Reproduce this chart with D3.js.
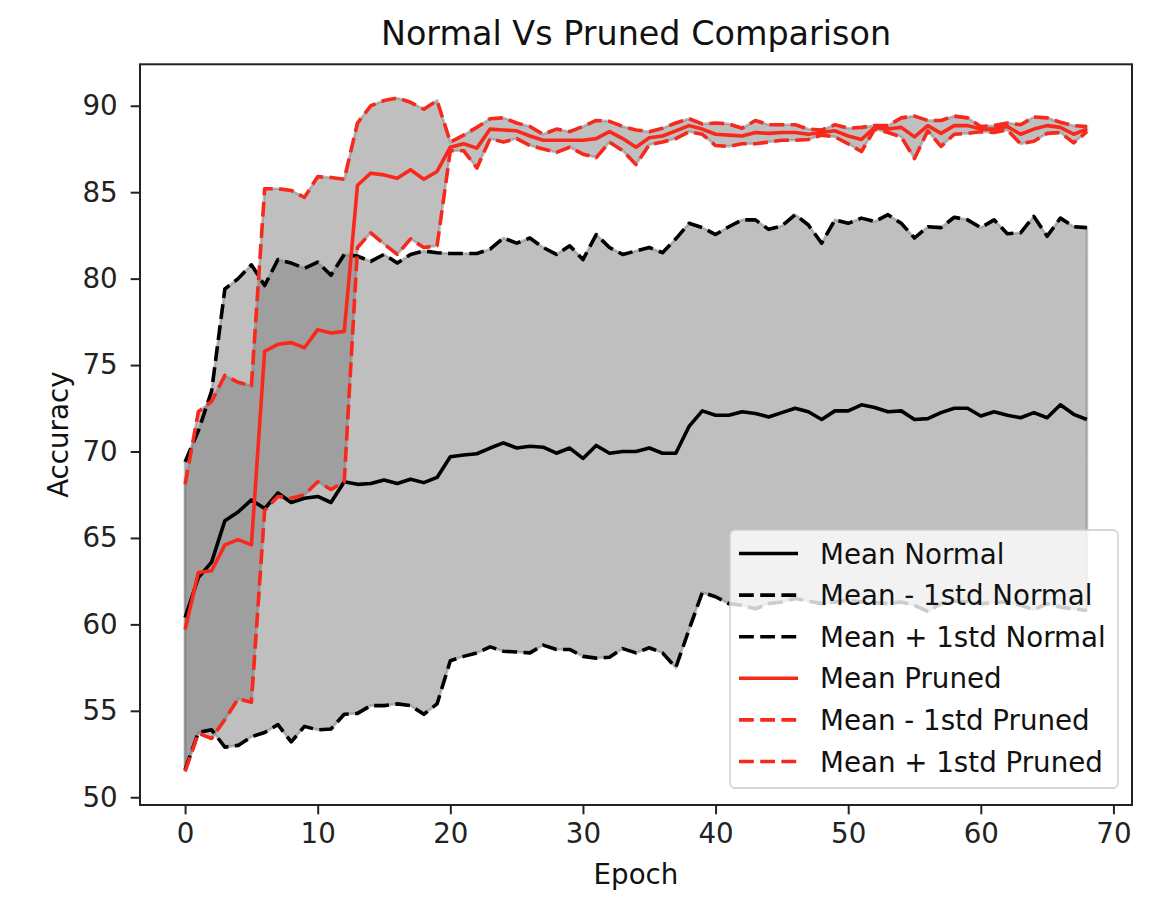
<!DOCTYPE html>
<html>
<head>
<meta charset="utf-8">
<script src="https://cdn.jsdelivr.net/npm/d3@7"></script>
<style>
  body { margin: 0; background: #fff; }
  svg { display: block; font-family: "DejaVu Sans", sans-serif; }
</style>
</head>
<body>
<div id="chart"></div>
<script>

// values, one per epoch (0 .. 68)
const meanNormal = [
  60.4, 62.7, 63.6, 66.0, 66.5, 67.2, 66.7, 67.6, 67.05, 67.3,
  67.4, 67.05, 68.25, 68.1, 68.15, 68.35, 68.15, 68.4, 68.2, 68.5,
  69.7, 69.8, 69.87, 70.2, 70.5, 70.2, 70.3, 70.25, 69.9, 70.2,
  69.6, 70.35, 69.9, 70.0, 70.0, 70.2, 69.9, 69.9, 71.45, 72.35,
  72.1, 72.1, 72.3, 72.2, 72.0, 72.25, 72.5, 72.3, 71.85, 72.35,
  72.35, 72.7, 72.55, 72.3, 72.35, 71.85, 71.9, 72.25, 72.5, 72.5,
  72.05, 72.3, 72.1, 71.95, 72.25, 71.95, 72.7, 72.15, 71.85
];
const lowerNormal = [
  51.6, 53.75, 53.9, 52.9, 53.0, 53.5, 53.75, 54.2, 53.2, 54.1,
  53.9, 53.95, 54.8, 54.85, 55.3, 55.3, 55.4, 55.3, 54.8, 55.4,
  57.9, 58.15, 58.35, 58.7, 58.45, 58.4, 58.35, 58.8, 58.55, 58.55,
  58.15, 58.05, 58.1, 58.6, 58.35, 58.65, 58.35, 57.5, 59.7, 61.85,
  61.6, 61.2, 61.1, 60.9, 61.2, 61.3, 61.5, 61.35, 61.2, 61.3,
  61.4, 61.3, 61.25, 61.2, 61.3, 61.1, 60.75, 61.2, 61.35, 61.3,
  61.2, 61.25, 61.3, 61.1, 60.85, 61.2, 61.0, 60.9, 60.8
];
const upperNormal = [
  69.4, 71.2, 73.5, 79.4, 80.0, 80.8, 79.6, 81.1, 80.9, 80.6,
  80.95, 80.2, 81.4, 81.3, 81.0, 81.4, 80.9, 81.4, 81.6, 81.5,
  81.45, 81.45, 81.45, 81.7, 82.35, 82.05, 82.35, 81.8, 81.4, 81.9,
  81.1, 82.55, 81.8, 81.4, 81.6, 81.8, 81.5, 82.3, 83.2, 82.95,
  82.55, 83.0, 83.4, 83.4, 82.85, 83.05, 83.7, 83.1, 82.05, 83.4,
  83.2, 83.5, 83.3, 83.7, 83.2, 82.35, 83.0, 82.95, 83.55, 83.4,
  82.95, 83.4, 82.6, 82.65, 83.6, 82.45, 83.5, 83.0, 82.95
];
const meanPruned = [
  59.7, 63.0, 63.1, 64.6, 64.9, 64.6, 75.8, 76.2, 76.3, 76.0,
  77.05, 76.85, 76.95, 85.4, 86.1, 86.0, 85.8, 86.3, 85.75, 86.2,
  87.6, 87.8, 87.55, 88.65, 88.6, 88.55, 88.25, 88.0, 88.0, 88.0,
  88.0, 88.1, 88.5, 88.1, 87.6, 88.15, 88.25, 88.55, 88.85, 88.65,
  88.35, 88.3, 88.25, 88.45, 88.4, 88.45, 88.45, 88.35, 88.45, 88.55,
  88.25, 88.05, 88.75, 88.65, 88.75, 88.2, 88.85, 88.4, 88.85, 88.85,
  88.65, 88.65, 88.8, 88.35, 88.65, 88.85, 88.75, 88.35, 88.65
];
const lowerPruned = [
  51.5, 53.7, 53.4, 54.5, 55.7, 55.5, 66.6, 67.4, 67.3, 67.5,
  68.25, 67.8, 68.25, 81.8, 82.65, 82.0, 81.4, 82.3, 81.8, 81.9,
  87.4, 87.4, 86.4, 88.1, 87.9, 88.1, 87.7, 87.5, 87.3, 87.6,
  87.2, 87.0, 87.9, 87.4, 86.6, 87.75, 87.9, 88.1, 88.5, 88.35,
  87.7, 87.65, 87.8, 87.8, 87.9, 88.0, 88.0, 88.05, 88.3, 88.2,
  87.8, 87.35, 88.65, 88.45, 88.2, 86.95, 88.55, 87.65, 88.35, 88.4,
  88.5, 88.45, 88.6, 87.8, 87.95, 88.4, 88.45, 87.85, 88.5
];
const upperPruned = [
  68.1, 72.3, 72.9, 74.4, 74.0, 73.8, 85.2, 85.2, 85.1, 84.7,
  85.9, 85.85, 85.75, 89.0, 90.0, 90.3, 90.45, 90.2, 89.8, 90.3,
  87.9, 88.3, 88.75, 89.25, 89.3, 89.0, 88.8, 88.35, 88.65, 88.5,
  88.8, 89.15, 89.1, 88.8, 88.6, 88.5, 88.7, 89.0, 89.25, 88.95,
  89.0, 88.95, 88.7, 89.15, 88.9, 88.9, 88.9, 88.65, 88.6, 88.9,
  88.7, 88.75, 88.85, 88.85, 89.3, 89.4, 89.15, 89.15, 89.4, 89.3,
  88.8, 88.85, 89.0, 88.9, 89.35, 89.3, 89.05, 88.85, 88.8
];

// axis ticks and legend labels
const xTicks = [0, 10, 20, 30, 40, 50, 60, 70];
const yTicks = [50, 55, 60, 65, 70, 75, 80, 85, 90];
const seriesLabels = [
  "Mean Normal", "Mean - 1std Normal", "Mean + 1std Normal",
  "Mean Pruned", "Mean - 1std Pruned", "Mean + 1std Pruned"
];

class ComparisonChart {

    constructor(containerLabel) {

        // canvas and plot box, in pixels
        this.width = 1160;
        this.height = 902;
        this.box = {left: 140, right: 1132, top: 64.3, bottom: 805};

        this.svg = d3.select(containerLabel)
        .append("svg")
        .attr("width", this.width)
        .attr("height", this.height);

        this.epochs = d3.range(meanNormal.length);

        // matplotlib style autoscale: data extent plus 5% each side
        let xExt = d3.extent(this.epochs);
        let xPad = (xExt[1] - xExt[0]) * 0.05;
        this.x = d3.scaleLinear()
        .domain([xExt[0] - xPad, xExt[1] + xPad])
        .range([this.box.left, this.box.right]);

        let all = [].concat(lowerNormal, upperNormal, meanNormal, lowerPruned, upperPruned, meanPruned);
        let yExt = d3.extent(all);
        let yPad = (yExt[1] - yExt[0]) * 0.05;
        this.y = d3.scaleLinear()
        .domain([yExt[0] - yPad, yExt[1] + yPad])
        .range([this.box.bottom, this.box.top]);

        this.red = "#f8291c";
        this.lineWidth = 3.6;
        this.dash = "14.8,6.4";
        this.fontSize = "27.7px";
    }

    drawBands() {
        let area = d3.area()
        .x(d => this.x(d))
        .y0(d => this.y(this.lowerCur[d]))
        .y1(d => this.y(this.upperCur[d]));

        let bands = [[lowerNormal, upperNormal], [lowerPruned, upperPruned]];
        bands.forEach(b => {
            this.lowerCur = b[0];
            this.upperCur = b[1];
            this.plot.append("path")
            .attr("d", area(this.epochs))
            .attr("fill", "gray")
            .attr("fill-opacity", 0.5)
            .attr("stroke", "gray")
            .attr("stroke-opacity", 0.5)
            .attr("stroke-width", 2.6);
        });
    }

    drawLine(values, color, dashed) {
        let line = d3.line()
        .x(d => this.x(d))
        .y(d => this.y(values[d]));

        this.plot.append("path")
        .attr("d", line(this.epochs))
        .attr("fill", "none")
        .attr("stroke", color)
        .attr("stroke-width", this.lineWidth)
        .attr("stroke-linejoin", "round")
        .attr("stroke-dasharray", dashed ? this.dash : null);
    }

    drawAxes() {
        let xAxis = d3.axisBottom(this.x)
        .tickValues(xTicks)
        .tickSize(9.3)
        .tickPadding(9.3);

        let yAxis = d3.axisLeft(this.y)
        .tickValues(yTicks)
        .tickSize(9.3)
        .tickPadding(13);

        let gx = this.svg.append("g")
        .attr("transform", `translate(0,${this.box.bottom})`)
        .call(xAxis);

        let gy = this.svg.append("g")
        .attr("transform", `translate(${this.box.left},0)`)
        .call(yAxis);

        [gx, gy].forEach(g => {
            g.select(".domain").remove();
            g.selectAll(".tick line").attr("stroke", "#222").attr("stroke-width", 2);
            g.selectAll(".tick text")
            .attr("fill", "#222")
            .style("font-family", "DejaVu Sans")
            .style("font-size", this.fontSize);
        });

        // the frame round the plot
        this.svg.append("rect")
        .attr("x", this.box.left)
        .attr("y", this.box.top)
        .attr("width", this.box.right - this.box.left)
        .attr("height", this.box.bottom - this.box.top)
        .attr("fill", "none")
        .attr("stroke", "#222")
        .attr("stroke-width", 2);

        let cx = (this.box.left + this.box.right) / 2;
        let cy = (this.box.top + this.box.bottom) / 2;

        this.svg.append("text")
        .attr("x", cx)
        .attr("y", 45)
        .attr("text-anchor", "middle")
        .attr("fill", "#111")
        .style("font-size", "33.4px")
        .text("Normal Vs Pruned Comparison");

        this.svg.append("text")
        .attr("x", cx)
        .attr("y", 884)
        .attr("text-anchor", "middle")
        .attr("fill", "#111")
        .style("font-size", this.fontSize)
        .text("Epoch");

        this.svg.append("text")
        .attr("transform", `translate(68,${cy}) rotate(-90)`)
        .attr("text-anchor", "middle")
        .attr("fill", "#111")
        .style("font-size", this.fontSize)
        .text("Accuracy");
    }

    drawLegend() {
        let g = this.svg.append("g");

        g.append("rect")
        .attr("x", 730)
        .attr("y", 530)
        .attr("width", 388)
        .attr("height", 258)
        .attr("rx", 5)
        .attr("fill", "white")
        .attr("fill-opacity", 0.8)
        .attr("stroke", "#cccccc")
        .attr("stroke-opacity", 0.8)
        .attr("stroke-width", 1.8);

        let rowY = d3.scaleLinear().domain([0, 5]).range([553.5, 761.5]);

        seriesLabels.forEach((label, i) => {
            let cy = rowY(i);
            let color = i < 3 ? "black" : this.red;
            g.append("line")
            .attr("x1", 739)
            .attr("x2", 798)
            .attr("y1", cy)
            .attr("y2", cy)
            .attr("stroke", color)
            .attr("stroke-width", this.lineWidth)
            .attr("stroke-dasharray", i % 3 == 0 ? null : this.dash);

            g.append("text")
            .attr("x", 820)
            .attr("y", cy + 10)
            .attr("fill", "#111")
            .style("font-size", this.fontSize)
            .text(label);
        });
    }

    draw() {
        this.svg.append("clipPath")
        .attr("id", "plot-clip")
        .append("rect")
        .attr("x", this.box.left)
        .attr("y", this.box.top)
        .attr("width", this.box.right - this.box.left)
        .attr("height", this.box.bottom - this.box.top);

        this.plot = this.svg.append("g").attr("clip-path", "url(#plot-clip)");

        // fills sit under all the lines
        this.drawBands();

        this.drawLine(meanNormal, "black", false);
        this.drawLine(lowerNormal, "black", true);
        this.drawLine(upperNormal, "black", true);
        this.drawLine(meanPruned, this.red, false);
        this.drawLine(lowerPruned, this.red, true);
        this.drawLine(upperPruned, this.red, true);

        this.drawAxes();
        this.drawLegend();
    }
}

let chart = new ComparisonChart("#chart");
chart.draw();

</script>
</body>
</html>
